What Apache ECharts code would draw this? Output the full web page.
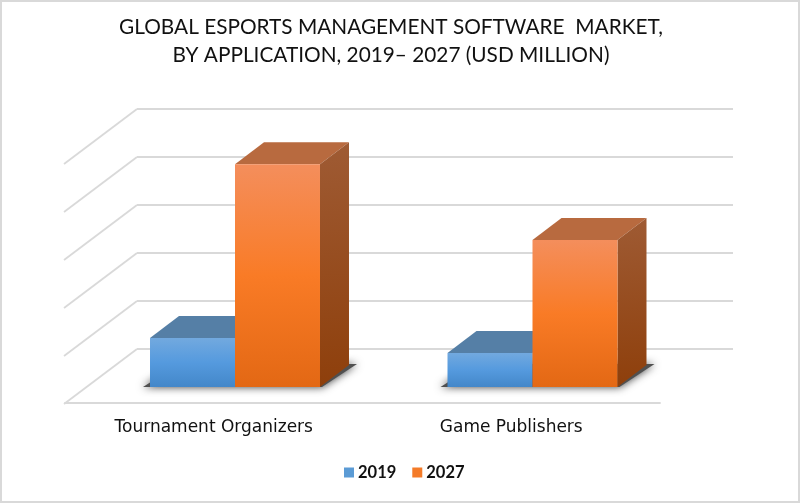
<!DOCTYPE html>
<html>
<head>
<meta charset="utf-8">
<style>html,body{margin:0;padding:0;background:#fff}#c{width:800px;height:503px}</style>
<script src="https://cdn.jsdelivr.net/npm/echarts@6/dist/echarts.min.js"></script>
</head>
<body>
<div id="c"></div>
<script>
var titleLines = ['GLOBAL ESPORTS MANAGEMENT SOFTWARE  MARKET,', 'BY APPLICATION, 2019\u2013 2027 (USD MILLION)'];
var categories = ['Tournament Organizers', 'Game Publishers'];
var years = ['2019', '2027'];
var values2019 = [1.02, 0.71];
var values2027 = [4.64, 3.06];
var tickLevels = [0, 1, 2, 3, 4, 5];

var gridColor = '#d9d9d9';
var wallShift = [73, -55];
var barShift = [21.25, -16];
var barDepth = [29, -22];
var barRatio = 0.2857;

function lg(x0, y0, x1, y1, c) {
  var stops = c.map(function (col, i) { return { offset: i / (c.length - 1), color: col }; });
  return new echarts.graphic.LinearGradient(x0, y0, x1, y1, stops);
}
var palette = [
  { front: ['#72a9df', '#559ade', '#4387c9'], top: '#557fa6', side: ['#3f6f9e', '#2f5f8e'] },
  { front: ['#f48e5c', '#f97b26', '#e36814'], top: '#b86a3f', side: ['#9f5b34', '#8e3f0b'] }
];

function barRenderer(sign) {
  return function (params, api) {
    var band = api.size([1, 0])[0];
    var w = band * barRatio;
    var base = api.coord([api.value(0), 0]);
    var top = api.coord([api.value(0), api.value(1)]);
    var cx = base[0] + barShift[0];
    var x0 = sign < 0 ? cx - w : cx;
    var x1 = x0 + w;
    var yB = base[1] + barShift[1];
    var yT = top[1] + barShift[1];
    var dx = barDepth[0], dy = barDepth[1];
    var p = palette[sign < 0 ? 0 : 1];
    return {
      type: 'group',
      children: [
        { type: 'polygon', shape: { points: [[x0, yT], [x1, yT], [x1 + dx, yT + dy], [x0 + dx, yT + dy]] }, style: { fill: p.top } },
        { type: 'polygon', shape: { points: [[x1, yT], [x1 + dx, yT + dy], [x1 + dx, yB + dy], [x1, yB]] }, style: { fill: lg(0, 0, 0.3, 1, p.side) } },
        { type: 'rect', shape: { x: x0, y: yT, width: w, height: yB - yT }, style: { fill: lg(0, 0, 0, 1, p.front) } }
      ]
    };
  };
}

function shadowRenderer(params, api) {
  var band = api.size([1, 0])[0];
  var w = band * barRatio;
  var base = api.coord([api.value(0), 0]);
  var cx = base[0] + barShift[0];
  var yB = base[1] + barShift[1];
  var dx = barDepth[0], dy = barDepth[1];
  var x0 = cx - w, x1 = cx + w;
  return {
    type: 'polygon',
    shape: { points: [[x0 - 7, yB], [x1 + 2, yB], [x1 + dx + 8, yB + dy - 1], [x0 + dx, yB + dy - 1]] },
    style: { fill: '#505050', shadowBlur: 9, shadowColor: '#3a3a3a' }
  };
}

function diagRenderer(params, api) {
  var a = api.coord([0, api.value(1)]);
  var left = params.coordSys.x;
  return {
    type: 'line',
    shape: { x1: left, y1: a[1], x2: left - wallShift[0], y2: a[1] - wallShift[1] },
    style: { stroke: gridColor, lineWidth: 1.8 }
  };
}

var chart = echarts.init(document.getElementById('c'), null, { renderer: 'canvas' });
var frontLeft = 65, frontRight = 140, frontTop = 163, frontBottom = 100;

chart.setOption({
  animation: false,
  backgroundColor: '#fff',
  title: {
    text: titleLines.join('\n'),
    left: 386, top: 9, textAlign: 'center',
    textStyle: { fontFamily: 'Lato', fontSize: 20.8, fontWeight: 400, color: '#111', lineHeight: 27.5 }
  },
  legend: {
    data: years, left: 339, top: 459, itemWidth: 10, itemHeight: 10, itemGap: 16,
    icon: 'rect',
    textStyle: { fontFamily: 'Lato', fontSize: 16.5, fontWeight: 700, color: '#111', padding: [0, 0, 0, -1] }
  },
  grid: [
    { left: frontLeft, right: frontRight, top: frontTop, bottom: frontBottom },
    { left: frontLeft + wallShift[0] - 1, right: frontRight - wallShift[0], top: frontTop + wallShift[1] + 1, bottom: frontBottom - wallShift[1] - 1 }
  ],
  xAxis: [
    { type: 'category', gridIndex: 0, data: categories,
      axisTick: { show: false },
      axisLine: { lineStyle: { color: gridColor, width: 1.8 } },
      axisLabel: { margin: 16, fontFamily: 'DejaVu Sans', fontSize: 17, color: '#111' } },
    { type: 'value', gridIndex: 1, min: 0, max: 1, show: false }
  ],
  yAxis: [
    { type: 'value', gridIndex: 0, min: 0, max: 5, interval: 1, show: false },
    { type: 'value', gridIndex: 1, min: 0, max: 5, interval: 1,
      axisLine: { show: false }, axisTick: { show: false }, axisLabel: { show: false },
      splitLine: { show: true, lineStyle: { color: gridColor, width: 1.8 } } }
  ],
  series: [
    { type: 'custom', name: 'walls', xAxisIndex: 1, yAxisIndex: 1, silent: true, z: 1,
      renderItem: diagRenderer, data: tickLevels.map(function (v) { return [0, v]; }) },
    { type: 'custom', name: 'shadow', xAxisIndex: 0, yAxisIndex: 0, silent: true, z: 2,
      renderItem: shadowRenderer, data: categories.map(function (c, i) { return [i, 0]; }) },
    { type: 'custom', name: years[0], xAxisIndex: 0, yAxisIndex: 0, z: 3, itemStyle: { color: '#5b9bd5' },
      renderItem: barRenderer(-1), data: values2019.map(function (v, i) { return [i, v]; }) },
    { type: 'custom', name: years[1], xAxisIndex: 0, yAxisIndex: 0, z: 4, itemStyle: { color: '#f47b28' },
      renderItem: barRenderer(1), data: values2027.map(function (v, i) { return [i, v]; }) }
  ],
  graphic: [
    { type: 'rect', silent: true, z: 100, shape: { x: 1, y: 1, width: 798, height: 501 },
      style: { fill: 'none', stroke: gridColor, lineWidth: 2 } }
  ]
});
</script>
</body>
</html>
